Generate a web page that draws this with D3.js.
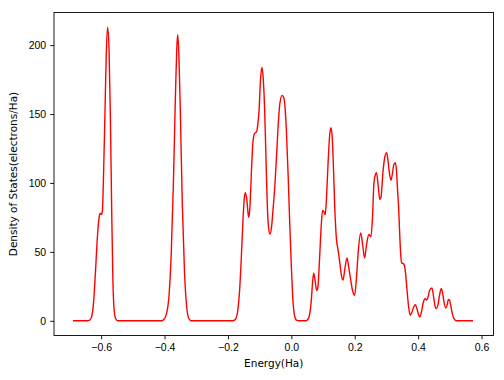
<!DOCTYPE html>
<html>
<head>
<meta charset="utf-8">
<script src="https://cdn.jsdelivr.net/npm/d3@7"></script>
<style>
  body { margin: 0; background: #fff; }
  svg  { display: block; font-family: "DejaVu Sans", sans-serif; }
  .tick text { font-size: 10.5px; fill: #000; }
  .axis-label { font-size: 10.5px; fill: #000; }
</style>
</head>
<body>
<svg width="504" height="380"></svg>
<script>

// energies (Ha)
const energy = [
  -0.689, -0.645, -0.636, -0.630, -0.624, -0.618, -0.612, -0.607, -0.603, -0.599,
  -0.596, -0.592, -0.588, -0.584, -0.5795, -0.575, -0.571, -0.567, -0.563, -0.559,
  -0.554, -0.548,
  -0.410, -0.402, -0.394, -0.386, -0.379, -0.372, -0.366, -0.3615, -0.3587, -0.355,
  -0.350, -0.344, -0.337, -0.330, -0.324, -0.316,
  -0.185, -0.177, -0.170, -0.163, -0.157, -0.152, -0.148, -0.145, -0.140, -0.136,
  -0.134, -0.130, -0.126, -0.121, -0.116, -0.110, -0.106, -0.102, -0.097, -0.0927,
  -0.0885, -0.0845, -0.080, -0.076, -0.072, -0.0675, -0.063, -0.058, -0.052, -0.047,
  -0.042, -0.036, -0.029, -0.024, -0.020, -0.016, -0.010, -0.005, 0.000, 0.005,
  0.010, 0.016, 0.024,
  0.045, 0.052, 0.058, 0.063, 0.067, 0.0705, 0.075, 0.080, 0.084, 0.089,
  0.094, 0.0985, 0.103, 0.107, 0.111, 0.116, 0.121, 0.125, 0.129, 0.133,
  0.137, 0.142, 0.147, 0.153, 0.158, 0.163, 0.169, 0.1754, 0.181, 0.187,
  0.193, 0.1995, 0.205, 0.211, 0.2186, 0.225, 0.231, 0.237, 0.2445, 0.251,
  0.256, 0.2605, 0.265, 0.2685, 0.274, 0.279, 0.283, 0.289, 0.295, 0.3005,
  0.305, 0.310, 0.3143, 0.319, 0.323, 0.328, 0.332, 0.335, 0.3385, 0.342,
  0.345, 0.348, 0.353, 0.357, 0.361, 0.365, 0.370, 0.375, 0.380, 0.386,
  0.391, 0.396, 0.4005, 0.405, 0.410, 0.415, 0.4195, 0.4227, 0.427, 0.431,
  0.436, 0.4436, 0.449, 0.453, 0.457, 0.462, 0.467, 0.473, 0.478, 0.482,
  0.487, 0.491, 0.4955, 0.499, 0.503, 0.508, 0.512, 0.517, 0.522, 0.573
];

// density of states (electrons/Ha) at those energies
const dos = [
  0, 0, 0.5, 3, 13, 35, 60, 74, 78, 77,
  80, 110, 150, 192, 213, 196, 150, 85, 30, 8,
  1.5, 0,
  0, 1, 5, 18, 48, 100, 160, 197, 207.5, 195,
  150, 85, 35, 10, 2, 0,
  0, 1, 6, 23, 50, 76, 90, 93, 87, 77,
  75, 85, 108, 130, 136, 137, 142, 152, 176, 183.7,
  175, 155, 118, 85, 68, 63, 67, 80, 98, 118,
  140, 158, 163.5, 162, 155, 140, 105, 70, 40, 15,
  4, 0.5, 0,
  0, 1, 5, 15, 28, 34.5, 29, 22, 25, 45,
  68, 80, 79, 77, 90, 115, 135, 140, 133, 110,
  82, 60, 52, 42, 33, 29.5, 38, 45.6, 39, 30,
  22, 18.5, 30, 50, 63.8, 55, 45.6, 55, 62.6, 61,
  75, 100, 106, 107.4, 98, 88, 90, 108, 119, 122,
  116, 106, 102, 107, 113, 114.7, 108, 95, 82, 62,
  48, 42, 41.5, 40, 33, 22, 10, 4, 6, 10,
  11.7, 9, 5, 2.8, 6, 12, 15.5, 16, 15, 17,
  22, 23.8, 17, 11, 8.8, 11, 18, 23.4, 19, 13,
  9.3, 11, 15.5, 15, 11, 5, 2, 0.5, 0, 0
];

const xTicks  = [-0.6, -0.4, -0.2, 0.0, 0.2, 0.4, 0.6];
const yTicks  = [0, 50, 100, 150, 200];
const xLimits = [-0.7487, 0.6377];
const yLimits = [-10.65, 223.65];


const svg    = d3.select('svg');
const margin = { top: 12.5, right: 10.5, bottom: 44.5, left: 54 };
const width  = +svg.attr('width')  - margin.left - margin.right;
const height = +svg.attr('height') - margin.top  - margin.bottom;

const points = energy.map((e, i) => ({ e, v: dos[i] }));

const x = d3.scaleLinear().domain(xLimits).range([0, width]);
const y = d3.scaleLinear().domain(yLimits).range([height, 0]);

const g = svg.append('g')
  .attr('transform', `translate(${margin.left},${margin.top})`);

const fmtX = d => d3.format('.1f')(d).replace('-', '\u2212');

const xAxis = g.append('g')
  .attr('transform', `translate(0,${height})`)
  .call(d3.axisBottom(x).tickValues(xTicks).tickFormat(fmtX).tickSize(3.8).tickPadding(4));

const yAxis = g.append('g')
  .call(d3.axisLeft(y).tickValues(yTicks).tickFormat(d3.format('d')).tickSize(3.8).tickPadding(4));

[xAxis, yAxis].forEach(a => {
  a.select('.domain').remove();
  a.selectAll('.tick line').attr('stroke', '#000').attr('stroke-width', 0.9);
});

// the curve
g.append('path')
  .datum(points)
  .attr('fill', 'none')
  .attr('stroke', '#ff0000')
  .attr('stroke-width', 1.4)
  .attr('stroke-linejoin', 'round')
  .attr('d', d3.line()
    .x(d => x(d.e))
    .y(d => y(d.v))
    .curve(d3.curveMonotoneX));

// frame
g.append('rect')
  .attr('width', width)
  .attr('height', height)
  .attr('fill', 'none')
  .attr('stroke', '#000')
  .attr('stroke-width', 0.9);

svg.append('text')
  .attr('class', 'axis-label')
  .attr('x', margin.left + width / 2)
  .attr('y', 367)
  .attr('text-anchor', 'middle')
  .text('Energy(Ha)');

svg.append('text')
  .attr('class', 'axis-label')
  .attr('transform', `translate(17,${margin.top + height / 2}) rotate(-90)`)
  .attr('text-anchor', 'middle')
  .text('Density of States(electrons/Ha)');

</script>
</body>
</html>
